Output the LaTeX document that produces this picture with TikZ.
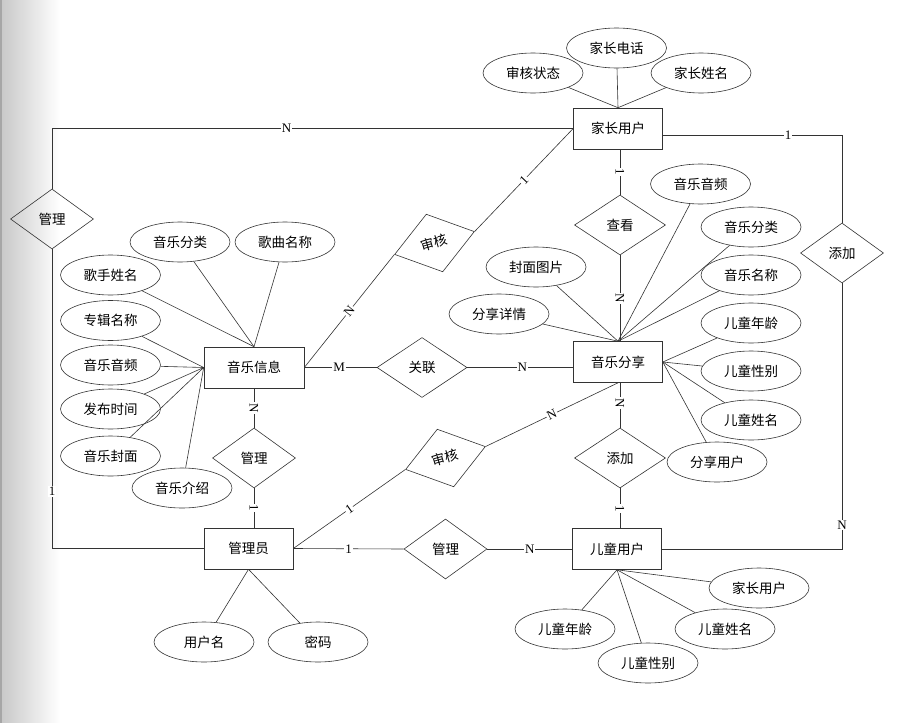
\documentclass[tikz,border=0pt]{standalone}
\usepackage{fontspec}
\setmainfont{Liberation Serif}
\newfontfamily\cjk{Noto Sans CJK SC}
\usetikzlibrary{shapes.geometric, calc}
\tikzset{ent/.style = {draw, rectangle, minimum width = 89, minimum height = 41, inner sep = 0, font = \cjk\fontsize{13.5}{16}\selectfont},
  attr/.style = {draw, ellipse, minimum width = 100, minimum height = 40, inner sep = 0, font = \cjk\fontsize{13.5}{16}\selectfont},
  rel/.style = {draw, diamond, minimum width = 83, minimum height = 60, inner sep = 0, font = \cjk\fontsize{13.5}{16}\selectfont},
  lab/.style = {fill = white, inner sep = 1, font = \fontsize{13}{13}\selectfont}}
\begin{document}
\begin{tikzpicture}[x=1pt, y=-1pt, line width=0.6pt, draw=black!80]
    \useasboundingbox (0,0) rectangle (908,723);
    \shade [left color = black!22, right color = white] (0,0) rectangle (60,723);
    \fill [black!35] (0,0) rectangle (1.5,723);

    \node [ent] (jz) at (618, 128.5) {家长用户};
    \node [ent, minimum width = 100] (yyxx) at (254, 367.5) {音乐信息};
    \node [ent] (yyfx) at (618, 362) {音乐分享};
    \node [ent] (gly) at (248.5, 548.5) {管理员};
    \node [ent] (et) at (617, 549) {儿童用户};
    \coordinate (jzr) at ($(jz.east)+(0,7)$);

    \node [rel] (gl1) at (52, 219) {管理};
    \node [rel, minimum width = 91] (ck) at (620, 225) {查看};
    \node [rel] (tj1) at (842, 253) {添加};
    \node [rel, minimum width = 90] (gl) at (422, 367.5) {关联};
    \node [rel] (gl2) at (254, 458) {管理};
    \node [rel, minimum width = 91] (tj2) at (620, 458) {添加};
    \node [rel] (gl3) at (445.5, 549) {管理};
    \node [rel, rotate = 16] (sh1) at (434.5, 243) {审核};
    \node [rel, rotate = 16] (sh2) at (445.5, 458) {审核};

    \node [attr] (jz1) at (533, 73) {审核状态};
    \node [attr] (jz2) at (616.5, 48) {家长电话};
    \node [attr] (jz3) at (701, 73) {家长姓名};
    \foreach \n in {jz1, jz2, jz3} \draw (\n) -- (jz.north);

    \node [attr] (xx1) at (180, 242) {音乐分类};
    \node [attr] (xx2) at (285, 242) {歌曲名称};
    \node [attr] (xx3) at (110.5, 275) {歌手姓名};
    \foreach \n in {xx1, xx2, xx3} \draw (\n) -- (yyxx.north);
    \node [attr] (xx4) at (110.5, 320.5) {专辑名称};
    \node [attr] (xx5) at (110.5, 365) {音乐音频};
    \node [attr] (xx6) at (110.5, 409) {发布时间};
    \node [attr] (xx7) at (110.5, 456) {音乐封面};
    \node [attr] (xx8) at (182, 488) {音乐介绍};
    \foreach \n in {xx4, xx5, xx6, xx7, xx8} \draw (\n) -- (yyxx.west);

    \node [attr] (fx1) at (700.5, 184) {音乐音频};
    \node [attr] (fx2) at (751, 227) {音乐分类};
    \node [attr] (fx3) at (536, 267) {封面图片};
    \node [attr] (fx4) at (751, 275) {音乐名称};
    \node [attr] (fx5) at (499, 314) {分享详情};
    \foreach \n in {fx1, fx2, fx3, fx4, fx5} \draw (\n) -- (yyfx.north);
    \node [attr] (fx6) at (751, 323) {儿童年龄};
    \node [attr] (fx7) at (751, 371) {儿童性别};
    \node [attr] (fx8) at (751, 420) {儿童姓名};
    \node [attr] (fx9) at (717, 462) {分享用户};
    \foreach \n in {fx6, fx7, fx8, fx9} \draw (\n) -- (yyfx.east);

    \node [attr] (gy1) at (204, 642) {用户名};
    \node [attr] (gy2) at (318, 642) {密码};
    \foreach \n in {gy1, gy2} \draw (\n) -- (gly.south);

    \node [attr] (et1) at (759, 588) {家长用户};
    \node [attr] (et2) at (565, 629) {儿童年龄};
    \node [attr] (et3) at (725, 629) {儿童姓名};
    \node [attr] (et4) at (648, 663) {儿童性别};
    \foreach \n in {et1, et2, et3, et4} \draw (\n) -- (et.south);

    \draw (jz.west) -- node [lab, pos = .55] {N} (jz.west -| gl1.north) -- (gl1.north);
    \draw (gl1.south) -- node [lab, pos = .81] {1} (gl1.south |- gly.west) -- (gly.west);
    \draw (jzr) -- node [lab, pos = .7] {1} (jzr -| tj1.north) -- (tj1.north);
    \draw (tj1.south) -- node [lab, pos = .91] {N} (tj1.south |- et.east) -- (et.east);

    \draw (ck.north) -- node [lab, rotate = -90] {1} (ck.north |- jz.south);
    \draw (ck.south) -- node [lab, rotate = -90] {N} (ck.south |- yyfx.north);
    \draw (tj2.north) -- node [lab, rotate = -90, pos = .55] {N} (tj2.north |- yyfx.south);
    \draw (tj2.south) -- node [lab, rotate = -90, pos = .5] {1} (tj2.south |- et.north);
    \draw (gl2.north) -- node [lab, rotate = -90] {N} (gl2.north |- yyxx.south);
    \draw (gl2.south) -- node [lab, rotate = -90] {1} (gl2.south |- gly.north);

    \draw (yyxx.east |- gl.west) -- node [lab, pos = .48] {M} (gl.west);
    \draw (gl.east) -- node [lab, pos = .52] {N} (gl.east -| yyfx.west);
    \draw (gly.east) -- node [lab, pos = .5] {1} (gl3.west);
    \draw (gl3.east) -- node [lab, pos = .5] {N} (et.west);

    \draw (yyxx.east) -- node [lab, sloped, pos = .5] {N} (sh1.west);
    \draw (sh1.east) -- node [lab, sloped, pos = .5] {1} (jz.west);
    \draw (gly.east) -- node [lab, sloped, pos = .5] {1} (sh2.west);
    \draw (sh2.east) -- node [lab, sloped, pos = .5] {N} (yyfx.south);
  \end{tikzpicture}
\end{document}
